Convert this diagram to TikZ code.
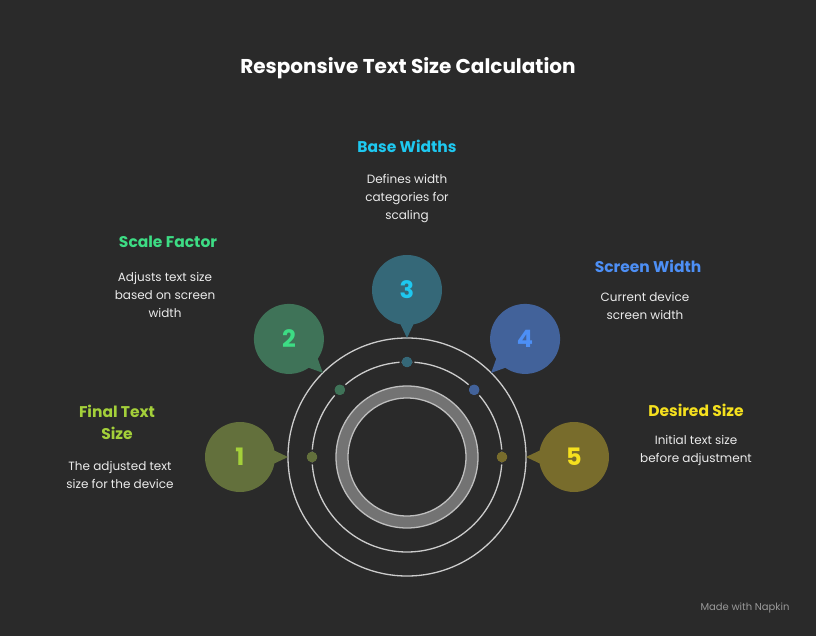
\documentclass[tikz,border=0pt]{standalone}
\usepackage{fontspec}
\setmainfont{Poppins}
\usetikzlibrary{calc}
\begin{document}
\begin{tikzpicture}[x=1pt,y=-1pt,
  ttl/.style={font=\bfseries\fontsize{15.5}{22}\selectfont,align=center},
  desc/.style={font=\fontsize{12}{18}\selectfont,align=center,text=white!92!black},
  num/.style={font=\bfseries\fontsize{24}{26}\selectfont}]
\definecolor{bg}{HTML}{2A2A2A}
\definecolor{cA}{HTML}{A4D03A}\definecolor{fA}{HTML}{63703C}
\definecolor{cB}{HTML}{3DDC84}\definecolor{fB}{HTML}{3F7358}
\definecolor{cC}{HTML}{1EC8F0}\definecolor{fC}{HTML}{356878}
\definecolor{cD}{HTML}{4D8FF5}\definecolor{fD}{HTML}{42629A}
\definecolor{cE}{HTML}{F5E01E}\definecolor{fE}{HTML}{786C2C}
\fill[bg] (0,0) rectangle (816,636);
\useasboundingbox (0,0) rectangle (816,636);
\node[text=white,font=\bfseries\fontsize{20}{24}\selectfont] (title) at (408,68) {Responsive Text Size Calculation};
\coordinate (c) at (407,457);
\draw[white!80!black,line width=1.3pt] (c) circle (119) (c) circle (95);
\fill[white!45!black] (c) circle (71);
\fill[bg] (c) circle (59);
\draw[white!75!black,line width=1.3pt] (c) circle (71) (c) circle (59);
\foreach \n/\ang/\fc/\tc in {1/180/fA/cA,2/225/fB/cB,3/270/fC/cC,4/315/fD/cD,5/360/fE/cE}{
  \fill[\fc] ($(c)+(\ang:167)$) circle (35);
  \fill[\fc] ($(c)+(\ang:119)$) -- ($(c)+(\ang:136)+(\ang+90:8)$) -- ($(c)+(\ang:136)+(\ang-90:8)$) -- cycle;
  \node[num,text=\tc] (n\n) at ($(c)+(\ang:167)$) {\n};
  \fill[\fc] ($(c)+(\ang:95)$) circle (5.5);
  \draw[bg,line width=2pt] ($(c)+(\ang:95)$) circle (6.5);
}
\node[ttl,text=cA] (t1) at (117,422) {Final Text\\Size};
\node[desc] (d1) at (120,475) {The adjusted text\\size for the device};
\node[ttl,text=cB] (t2) at (168,242) {Scale Factor};
\node[desc] (d2) at (165,295) {Adjusts text size\\based on screen\\width};
\node[ttl,text=cC] (t3) at (407,146) {Base Widths};
\node[desc] (d3) at (407,199) {Defines width\\categories for\\scaling};
\node[ttl,text=cD] (t4) at (648,266) {Screen Width};
\node[desc] (d4) at (645,306) {Current device\\screen width};
\node[ttl,text=cE] (t5) at (696,410) {Desired Size};
\node[desc] (d5) at (696,450) {Initial text size\\before adjustment};
\node[text=white!60!black,font=\fontsize{10}{12}\selectfont,anchor=east] (mk) at (793,608) {Made with Napkin};
\end{tikzpicture}
\end{document}
